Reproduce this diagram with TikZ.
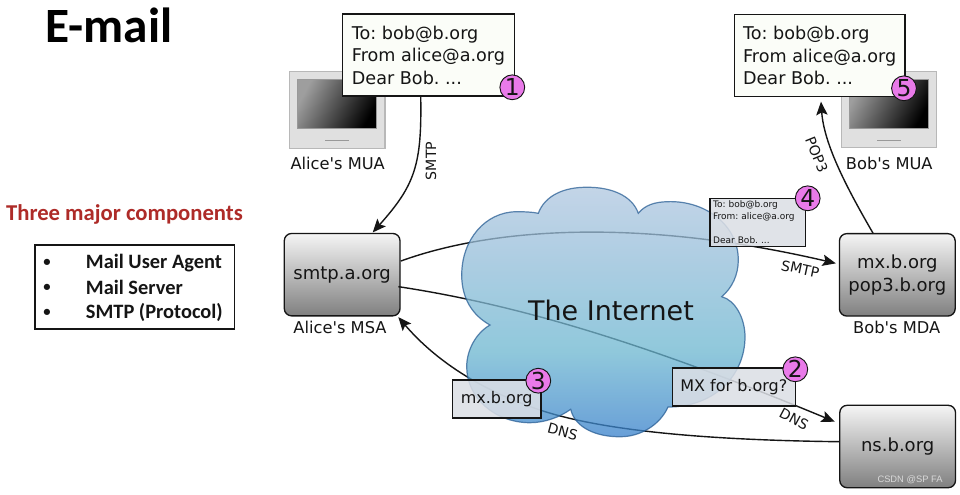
\documentclass[tikz,border=0pt]{standalone}
\usepackage{fontspec}
\setmainfont[Ligatures=TeXOff]{DejaVu Sans}
\newfontfamily\califont{Carlito}
\newfontfamily\wmfont{Liberation Sans}
\usetikzlibrary{arrows.meta,calc}
\definecolor{inkc}{HTML}{151515}
\definecolor{bubblec}{HTML}{E97AE9}
\definecolor{panelc}{HTML}{DCDFE5}
\definecolor{mailc}{HTML}{FBFDF8}
\definecolor{redc}{HTML}{AE2B28}
\definecolor{cloudline}{HTML}{2A5F95}
\definecolor{cloudA}{RGB}{54,127,203}
\definecolor{cloudB}{RGB}{107,182,208}
\definecolor{cloudC}{RGB}{150,190,218}
\definecolor{cloudD}{RGB}{176,199,224}
\pgfdeclareverticalshading{cloudshade}{100bp}{
  color(0bp)=(cloudA);
  color(25bp)=(cloudA);
  color(42bp)=(cloudB);
  color(62bp)=(cloudC);
  color(75bp)=(cloudD);
  color(100bp)=(cloudD)}
\tikzset{
  x=0.75pt,y=-0.75pt,
  every node/.style={text=inkc,outer sep=0pt},
  mailbox/.style={draw=inkc,line width=1.1pt,fill=mailc,anchor=north west,
    minimum height=61.5pt,inner ysep=0pt,inner xsep=2pt,align=left,
    font=\fontsize{13.2pt}{16.9pt}\selectfont},
  server/.style={draw=inkc,line width=1pt,rounded corners=5.5pt,top color=white!96!black,
    bottom color=black!50,minimum width=86.8pt,minimum height=61.8pt,inner sep=0pt,align=center,
    font=\fontsize{13.5pt}{17.2pt}\selectfont},
  caption/.style={font=\fontsize{12.2pt}{14pt}\selectfont},
  proto/.style={font=\fontsize{10.6pt}{12pt}\selectfont},
  panel/.style={draw=inkc,line width=1.1pt,fill=panelc,fill opacity=0.86,text opacity=1,
    inner sep=0pt,minimum height=28.4pt,font=\fontsize{12pt}{14pt}\selectfont},
  bubble/.style={circle,draw=inkc,line width=0.7pt,fill=bubblec,minimum size=18.6pt,inner sep=0pt,
    font=\fontsize{17.5pt}{18pt}\selectfont},
  link/.style={draw=inkc,line width=1.05pt},
  linkto/.style={link,-{Stealth[length=10pt,width=8.5pt,inset=2pt]}},
  casing/.style={draw=black!28,line width=1pt,fill=black!12},
  screen/.style={draw=black!40,line width=1pt,top color=black!38,bottom color=black,shading angle=62},
  slot/.style={draw=black!40,line width=1pt},
  items/.style={font=\califont\bfseries\fontsize{15.3pt}{18pt}\selectfont}
}
\begin{document}
\frenchspacing
\begin{tikzpicture}
\fill[white] (0,0) rectangle (960,494);
\useasboundingbox (0,0) rectangle (960,494);

% left panel
\node[font=\califont\bfseries\fontsize{37pt}{40pt}\selectfont,text=black] (title) at (109,25) {E-mail};
\node[font=\califont\bfseries\fontsize{17pt}{19pt}\selectfont,text=redc] (major) at (124.5,214) {Three major components};
\draw[draw=inkc,line width=0.9pt] (35,245) rectangle (234.3,329);
\foreach \nm/\yy/\tx in {a/263/Mail User Agent,b/287.5/Mail Server,c/312.5/SMTP (Protocol)}{
  \node[font=\califont\bfseries\fontsize{11pt}{12pt}\selectfont] (bul\nm) at (47,\yy) {•};
  \node[items,anchor=west] (item\nm) at (81.5,\yy) {\tx};
}

% monitors
\draw[casing] (289.3,71.7) rectangle (385,148.3);
\path[screen] (297.3,79.3) rectangle (376.7,128.3);
\draw[slot] (325,140.7) -- (349.3,140.7);
\node[caption] (muaA) at (337.7,163) {Alice's MUA};
\draw[casing] (841.7,71.7) rectangle (936.7,147.7);
\path[screen] (849.3,79.3) rectangle (928.7,128.3);
\draw[slot] (877.3,140.7) -- (901.3,140.7);
\node[caption] (muaB) at (889.3,163) {Bob's MUA};

% mail boxes
\node[mailbox,minimum width=128.7pt] (mailA) at (342.7,14) {To: bob@b.org\\From alice@a.org\\Dear Bob. ...};
\node[mailbox,minimum width=128pt] (mailE) at (734.3,14.7) {To: bob@b.org\\From alice@a.org\\Dear Bob. ...};

% servers
\node[server] (smtp) at (342.15,274.65) {smtp.a.org};
\node[server] (mda) at (897.3,274.85) {mx.b.org\\pop3.b.org};
\node[server] (ns) at (897.65,446.5) {ns.b.org};
\node[caption] (msa) at (340,327.5) {Alice's MSA};
\node[caption] (mdal) at (896.7,327.5) {Bob's MDA};

% connectors
\draw[linkto] ($(mailA.south)+(-7.8,0)$) .. controls (422,165) and (415,185) .. ($(smtp.north)+(30.55,-1)$);
\draw[linkto] ($(mda.north)+(-24,0)$) .. controls (848,190) and (824,145) .. ($(mailE.south)+(1.35,5)$);
\draw[linkto] ($(smtp.east)+(0.7,-13.6)$) .. controls (500,225) and (650,220) .. ($(mda.west)+(-3.6,-11.5)$);
\draw[linkto] ($(smtp.east)+(-1.7,12)$) .. controls (520,305) and (650,345) .. ($(ns.west)+(-5,-24.8)$);
\draw[linkto] ($(ns.west)+(0,-4.8)$) .. controls (700,440) and (600,430) .. (540,410) .. controls (480,390) and (435,360) .. ($(smtp.south east)+(-1.7,1.3)$);

% cloud
\path[draw=cloudline,line width=0.9pt,shading=cloudshade,opacity=0.75]
  (538.3,213.3) .. controls (545,195) and (565,187) .. (587,187.3)
  .. controls (610,187) and (632,195) .. (638.3,213.3)
  .. controls (645,205) and (655,202) .. (667,201.7)
  .. controls (705,200) and (738.3,225) .. (738.3,260)
  .. controls (738.3,275) and (732,288) .. (721.7,296.7)
  .. controls (735,300) and (745,318) .. (745,336.7)
  .. controls (745,375) and (715,407) .. (668,407)
  .. controls (660,425) and (640,437) .. (620,436.7)
  .. controls (597,437) and (575,428) .. (570.7,409.3)
  .. controls (560,417) and (545,422.7) .. (530,422.7)
  .. controls (495,422.7) and (466.7,398) .. (466.7,366.7)
  .. controls (466.7,350) and (476,333) .. (490,325)
  .. controls (472,315) and (461.7,298) .. (461.7,275)
  .. controls (461.7,240) and (485,211.7) .. (517,211.7)
  .. controls (525,211.7) and (532,212) .. (538.3,213.3) -- cycle;
\node[font=\fontsize{20.2pt}{22pt}\selectfont] (net) at (611,310.7) {The Internet};

% panels on the cloud
\node[panel,anchor=north west,minimum width=71.7pt,minimum height=36pt,text width=67pt,inner xsep=2.35pt,align=left,
  font=\fontsize{6.75pt}{8.9pt}\selectfont] (mailD) at (710,198.3) {To: bob@b.org\\From: alice@a.org\\[8.9pt]Dear Bob. ...};
\node[panel,minimum width=66.5pt] (mxq) at (496.65,399.15) {mx.b.org};
\node[panel,minimum width=92.25pt] (mxa) at (733.8,387.15) {MX for b.org?};

% protocol labels
\node[proto,rotate=90] (p1) at (431,161) {SMTP};
\node[proto,rotate=-68] (p2) at (816.7,155) {POP3};
\node[proto,rotate=-12] (p3) at (800.3,269) {SMTP};
\node[proto,rotate=-15] (p4) at (562.7,431.7) {DNS};
\node[proto,rotate=-28] (p5) at (794,419) {DNS};

% numbered bubbles
\node[bubble] (n1) at (512.3,87.3) {1};
\node[bubble] (n2) at (795.3,369.3) {2};
\node[bubble] (n3) at (538.3,380.7) {3};
\node[bubble] (n4) at (807.7,198.3) {4};
\node[bubble] (n5) at (904,88.3) {5};

\node[font=\wmfont\fontsize{7pt}{8pt}\selectfont,text=black!15] (wm) at (910,479.3) {CSDN @SP FA};
\end{tikzpicture}
\end{document}
